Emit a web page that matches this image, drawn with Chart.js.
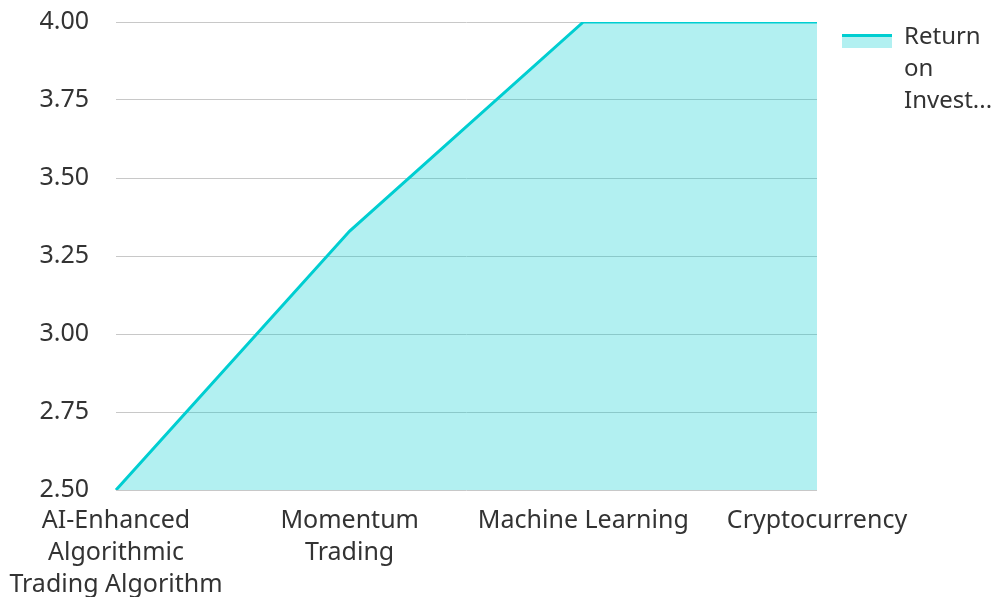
<!DOCTYPE html>
<html>
<head>
<meta charset="utf-8">
<script src="https://cdn.jsdelivr.net/npm/chart.js@4.4.1/dist/chart.umd.min.js"></script>
<style>
  html, body { margin: 0; padding: 0; background: #fff; }
  #wrap { width: 993px; height: 597px; }
</style>
</head>
<body>
<div id="wrap"><canvas id="grafico"></canvas></div>
<script>
// datos del grafico
const categorias = [
    ['AI-Enhanced', 'Algorithmic', 'Trading Algorithm'],
    ['Momentum', 'Trading'],
    'Machine Learning',
    'Cryptocurrency'
];
const retorno = [2.5, 3.33, 4.0, 4.0];
const serieNombre = ['Return', 'on', 'Invest...'];

const colorLinea = 'rgb(0, 206, 209)';
const colorRelleno = 'rgba(0, 206, 209, 0.3)';

// icono de la leyenda: relleno con linea arriba (margen transparente a la izquierda y arriba)
function iconoLeyenda() {
    const c = document.createElement('canvas');
    c.width = 73;
    c.height = 22;
    const ctx = c.getContext('2d');
    ctx.fillStyle = colorRelleno;
    ctx.fillRect(23, 8, 50, 14);
    ctx.fillStyle = colorLinea;
    ctx.fillRect(23, 8, 50, 3);
    return c;
}

Chart.defaults.font.family = '"Noto Sans", sans-serif';
Chart.defaults.font.size = 25;
Chart.defaults.font.lineHeight = 1.28;
Chart.defaults.color = '#333';

new Chart(document.getElementById('grafico'), {
    type: 'line',
    data: {
        labels: categorias,
        datasets: [{
            label: 'Return on Investment',
            data: retorno,
            borderColor: colorLinea,
            backgroundColor: colorRelleno,
            borderWidth: 3,
            fill: 'start',
            tension: 0,
            pointRadius: 0
        }]
    },
    options: {
        responsive: true,
        maintainAspectRatio: false,
        animation: false,
        layout: { padding: { top: 8, right: 0, left: 16, bottom: -11 } },
        plugins: {
            legend: {
                position: 'right',
                align: 'start',
                maxWidth: 176,
                // titulo vacio solo para bajar la leyenda
                title: { display: true, text: ' ', font: { size: 1, lineHeight: 1 }, padding: { top: 14, bottom: 0 } },
                labels: {
                    usePointStyle: true,
                    pointStyleWidth: 73,
                    boxHeight: 24,
                    padding: 2,
                    color: '#333',
                    font: { size: 24, lineHeight: 1.33 },
                    generateLabels: (chart) => [{
                        text: serieNombre,
                        pointStyle: iconoLeyenda(),
                        datasetIndex: 0,
                        lineWidth: 0,
                        hidden: false
                    }]
                }
            },
            tooltip: { enabled: false }
        },
        scales: {
            x: {
                offset: false,
                grid: { display: false },
                border: { display: false },
                ticks: { maxRotation: 0, autoSkip: false, padding: 7 }
            },
            y: {
                min: 2.5,
                max: 4.0,
                border: { display: false },
                grid: { color: '#c8c8c8', lineWidth: 1, tickLength: 21, tickColor: 'transparent' },
                ticks: {
                    stepSize: 0.25,
                    padding: 6,
                    callback: (v) => Number(v).toFixed(2)
                },
                afterFit: (scale) => { scale.width = 100; }
            }
        }
    }
});
</script>
</body>
</html>
